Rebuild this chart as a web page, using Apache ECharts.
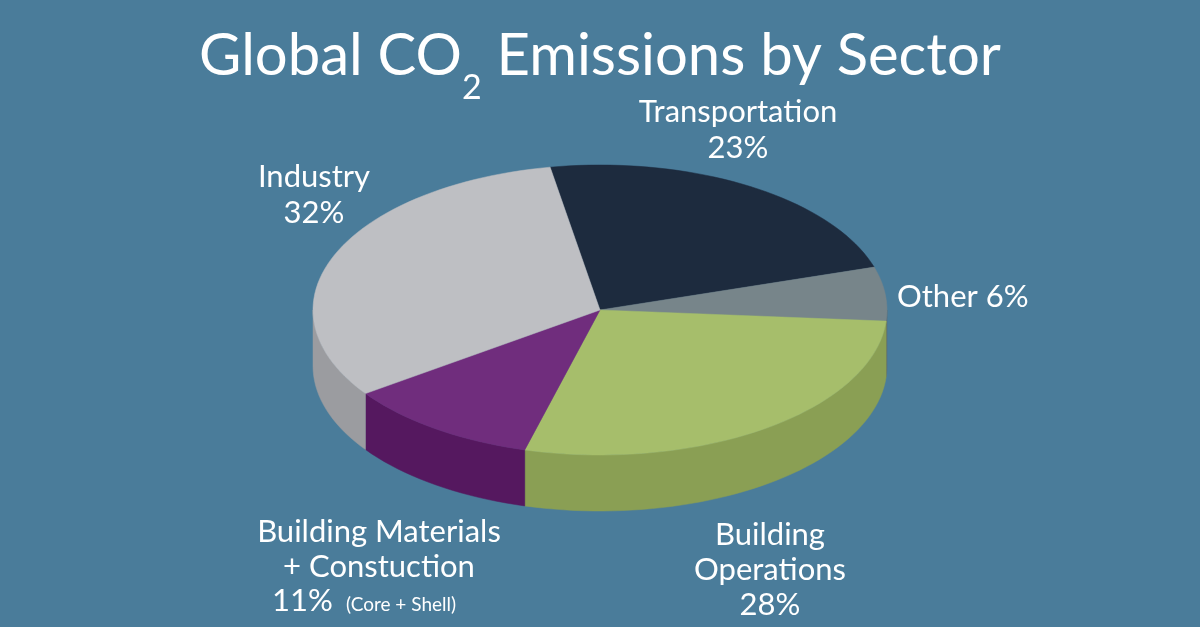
<!DOCTYPE html>
<html><head><meta charset="utf-8">
<script src="https://cdn.jsdelivr.net/npm/echarts@6/dist/echarts.min.js"></script>
<style>html,body{margin:0;padding:0;background:#4a7c9a;}#c{width:1200px;height:627px;}</style>
</head><body><div id="c"></div>
<script>
const categories = ['Transportation','Other','Building Operations','Building Materials + Constuction','Industry'];
const values = [23, 6, 28, 11, 32];
const topColors = ['#1d2b3e','#77858a','#a6be6b','#702d7d','#bebfc3'];
const sideColors = ['#141e2c','#5d686c','#8a9f54','#55185f','#9b9ca0'];

const cx = 600, cy = 310, rx = 287, ry = 145, depth = 56, startDeg = 100;
const total = values.reduce((a,b)=>a+b,0);
function slices(){
  let a = startDeg; const out=[];
  values.forEach(v=>{ const s=a; a -= v/total*360; out.push([s,a]); });
  return out;
}
function pt(deg, dy){ const r=deg*Math.PI/180; return [cx+rx*Math.cos(r), cy - ry*Math.sin(r) + (dy||0)]; }
function arc(from,to,dy){ const pts=[]; const n=Math.max(2,Math.ceil(Math.abs(from-to)/2)); for(let i=0;i<=n;i++){pts.push(pt(from+(to-from)*i/n,dy));} return pts; }
const F = '31px Lato';
const chart = echarts.init(document.getElementById('c'));
chart.setOption({
  backgroundColor:'#4a7c9a',
  title:{ text:'{a|Global CO}{s|2}{a| Emissions by Sector}', left:'center', top:14,
    textStyle:{ rich:{ a:{fontFamily:'Lato',fontWeight:'normal',fontSize:58,color:'#fff',lineHeight:66, verticalAlign:'bottom'},
                       s:{fontFamily:'Lato',fontWeight:'normal',fontSize:34,color:'#fff',lineHeight:66, verticalAlign:'bottom', padding:[0,0,-20,0]} } } },
  series:[
    { type:'custom', coordinateSystem:'none', z:1, data: values.map((v,i)=>i),
      renderItem:(p,api)=>{
        const i=api.value(0); const [s,e]=slices()[i];
        const children=[];
        for (const off of [0,-360,360]) {
          const lo=Math.max(e, -180+off), hi=Math.min(s, 0+off);
          if (hi>lo){
            const top=arc(hi,lo,0), bot=arc(lo,hi,depth);
            children.push({type:'polygon', shape:{points:top.concat(bot)},
              style:{fill: sideColors[i], stroke: sideColors[i], lineWidth:0.5}});
          }
        }
        return {type:'group', children};
      }},
    { type:'custom', coordinateSystem:'none', z:2, data: values.map((v,i)=>i),
      renderItem:(p,api)=>{
        const i=api.value(0); const [s,e]=slices()[i];
        const pts=[[cx,cy]].concat(arc(s,e,0));
        return {type:'polygon', shape:{points:pts}, style:{fill:topColors[i], stroke:topColors[i], lineWidth:0.5}};
      }}
  ],
  graphic:[
    {type:'text', x:738, y:94, style:{text:categories[0]+'\n'+values[0]+'%', align:'center', fill:'#fff', font:F, lineHeight:36}},
    {type:'text', x:314, y:159, style:{text:categories[4]+'\n'+values[4]+'%', align:'center', fill:'#fff', font:F, lineHeight:36}},
    {type:'text', x:897, y:281, style:{text:categories[1]+' '+values[1]+'%', align:'left', fill:'#fff', font:F}},
    {type:'text', x:770, y:517, style:{text:'Building\nOperations\n'+values[2]+'%', align:'center', fill:'#fff', font:F, lineHeight:35}},
    {type:'text', x:379, y:514, style:{text:'Building Materials\n+ Constuction', align:'center', fill:'#fff', font:F, lineHeight:35}},
    {type:'text', x:272, y:585, style:{text:values[3]+'%', align:'left', fill:'#fff', font:F}},
    {type:'text', x:346, y:595, style:{text:'(Core + Shell)', align:'left', fill:'#fff', font:'19px Lato'}}
  ]
});
</script></body></html>
